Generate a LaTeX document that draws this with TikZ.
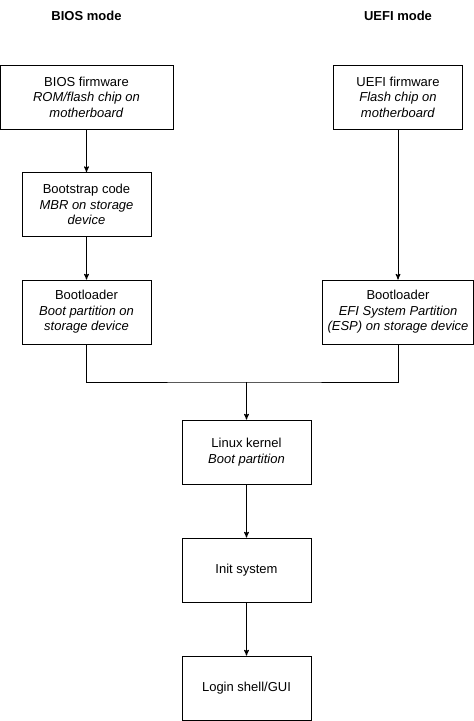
\documentclass[tikz,border=0pt]{standalone}
\usepackage{fontspec}
\setmainfont{Liberation Sans}
\usetikzlibrary{arrows}

\begin{document}
\begin{tikzpicture}[->,>=stealth',line width=1pt,node distance=107.5pt,
  box node/.style={rectangle,draw,minimum width=129pt,minimum height=64pt,align=center,font=\fontsize{13}{15.6}\selectfont},
  mode label/.style={font=\fontsize{13}{15.6}\selectfont\bfseries}]
\useasboundingbox (0,0) rectangle (474pt,-721pt);
\node[mode label] (biosmode) at (86.5pt,-16pt) {BIOS mode};
\node[mode label] (uefimode) at (398pt,-16pt) {UEFI mode};
\node[box node,minimum width=173pt] (biosfw) at (86.5pt,-97pt) {BIOS firmware\\\textit{ROM/flash chip on}\\\textit{motherboard}};
\node[box node] (bootstrap) [below of=biosfw] {Bootstrap code\\\textit{MBR on storage}\\\textit{device}};
\node[box node] (biosbl) [below of=bootstrap] {Bootloader\\\textit{Boot partition on}\\\textit{storage device}};
\node[box node] (uefifw) at (398pt,-97pt) {UEFI firmware\\\textit{Flash chip on}\\\textit{motherboard}};
\node[box node,minimum width=151pt,node distance=215pt] (uefibl) [below of=uefifw] {Bootloader\\\textit{EFI System Partition}\\\textit{(ESP) on storage device}};
\node[box node] (kernel) at (246.5pt,-452pt) {Linux kernel\\\textit{Boot partition}};
\node[box node,node distance=118pt] (init) [below of=kernel] {Init system};
\node[box node,node distance=118pt] (login) [below of=init] {Login shell/GUI};
\coordinate (merge) at (246.5pt,-382pt);
\draw[-] (biosbl) |- (merge) -| (uefibl);
\path (biosfw) edge (bootstrap)
	(bootstrap) edge (biosbl)
	(uefifw) edge (uefibl)
	(merge) edge (kernel)
	(kernel) edge (init)
	(init) edge (login);
\end{tikzpicture}
\end{document}
